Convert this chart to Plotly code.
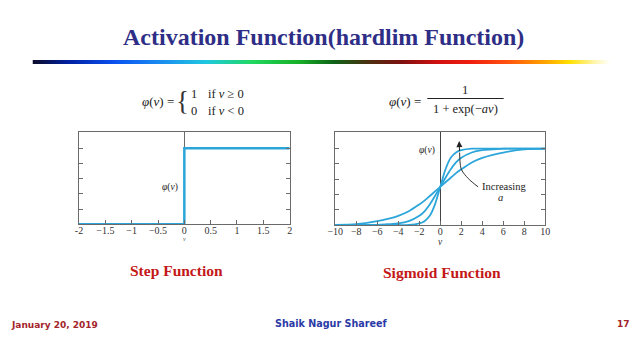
import plotly.graph_objects as go

# ---------------- data ----------------
step_x = [-2, 0, 0, 2]
step_y = [0, 0, 1, 1]
step_ticks = [-2, -1.5, -1, -0.5, 0, 0.5, 1, 1.5, 2]
step_ticktext = ["-2", "−1.5", "−1", "−0.5", "0", "0.5", "1", "1.5", "2"]

sig_v = [-10, -8, -6, -5, -4, -3, -2, -1.5, -1, -0.5, 0, 0.5, 1, 1.5, 2, 3, 4, 5, 6, 8, 10]
sig_shallow = [0.0, 0.01, 0.05, 0.08, 0.12, 0.18, 0.27, 0.32, 0.38, 0.44, 0.5, 0.56, 0.62, 0.68, 0.73, 0.82, 0.88, 0.92, 0.95, 0.99, 1.0]
sig_middle = [0.0, 0.0, 0.0, 0.01, 0.02, 0.05, 0.12, 0.18, 0.27, 0.38, 0.5, 0.62, 0.73, 0.82, 0.88, 0.95, 0.98, 0.99, 1.0, 1.0, 1.0]
sig_steep = [0.0, 0.0, 0.0, 0.0, 0.0, 0.0, 0.02, 0.05, 0.12, 0.27, 0.5, 0.73, 0.88, 0.95, 0.98, 1.0, 1.0, 1.0, 1.0, 1.0, 1.0]
sig_ticks = [-10, -8, -6, -4, -2, 0, 2, 4, 6, 8, 10]
y_ticks = [0.2, 0.4, 0.6, 0.8, 1.0]

arrow_v = [3.6, 2.66, 2.04, 1.9, 1.84]
arrow_y = [0.50, 0.61, 0.72, 0.80, 0.95]

gradient_stops = [
    (0.00, "#0c0c2a"), (0.06, "#0020a0"), (0.14, "#0a50f0"), (0.22, "#1a8cf0"),
    (0.30, "#20c8e0"), (0.38, "#20d860"), (0.46, "#18b028"), (0.52, "#0e6418"),
    (0.58, "#4a3010"), (0.64, "#801010"), (0.70, "#d01010"), (0.76, "#f02010"),
    (0.82, "#ff5010"), (0.88, "#ff9a00"), (0.93, "#ffe000"), (0.97, "#fff4a0"),
    (1.00, "#ffffff"),
]

W, H = 638, 359
LINE = "#2ca6da"
FRAME = "#6a6a6a"
SERIF = "Liberation Serif, Times New Roman, serif"
SANS = "DejaVu Sans, Verdana, sans-serif"

fig = go.Figure()

# step function
fig.add_trace(go.Scatter(x=step_x, y=step_y, mode="lines",
                         line=dict(color=LINE, width=2.5), cliponaxis=False,
                         xaxis="x", yaxis="y", showlegend=False, hoverinfo="skip"))

# sigmoid curves
for ys in (sig_shallow, sig_middle, sig_steep):
    fig.add_trace(go.Scatter(x=sig_v, y=ys, mode="lines",
                             line=dict(color=LINE, width=1.8, shape="spline", smoothing=0.8),
                             cliponaxis=False, xaxis="x2", yaxis="y2",
                             showlegend=False, hoverinfo="skip"))

# arrow curve
fig.add_trace(go.Scatter(x=arrow_v, y=arrow_y, mode="lines",
                         line=dict(color="#333333", width=1, shape="spline"),
                         xaxis="x2", yaxis="y2", showlegend=False, hoverinfo="skip"))

# gradient bar
n = 120
fig.add_trace(go.Heatmap(z=[list(range(n))], x=list(range(n)), y=[0],
                         colorscale=[[p, c] for p, c in gradient_stops],
                         showscale=False, zsmooth="best", hoverinfo="skip",
                         xaxis="x3", yaxis="y3"))

ax_common = dict(showline=True, linecolor=FRAME, linewidth=1, mirror=True,
                 ticks="inside", ticklen=4, tickcolor=FRAME, showgrid=False,
                 ticklabelstandoff=-3,
                 tickfont=dict(family=SERIF, size=10, color="#333333"))


def px(x):
    return x / W


def py(y):
    return 1 - y / H


fig.update_layout(
    width=W, height=H, margin=dict(l=0, r=0, t=0, b=0),
    paper_bgcolor="white", plot_bgcolor="white",
    xaxis=dict(domain=[px(72.5), px(287.5)], range=[-2, 2], tickvals=step_ticks,
               ticktext=step_ticktext,
               zeroline=True, zerolinecolor=FRAME, zerolinewidth=1, anchor="y", **ax_common),
    yaxis=dict(domain=[py(224.3), py(132.3)], range=[0, 1.21], tickvals=y_ticks,
               showticklabels=False, zeroline=False, anchor="x",
               **{**ax_common, "mirror": "ticks"}),
    xaxis2=dict(domain=[px(334), px(548.5)], range=[-10, 10], tickvals=sig_ticks,
                zeroline=True, zerolinecolor="#444444", zerolinewidth=1, anchor="y2", **ax_common),
    yaxis2=dict(domain=[py(225), py(132.3)], range=[0, 1.215], tickvals=y_ticks,
                showticklabels=False, zeroline=False, anchor="x2",
                **{**ax_common, "mirror": "ticks"}),
    xaxis3=dict(domain=[px(25), px(614)], visible=False, range=[0, n - 1]),
    yaxis3=dict(domain=[py(64), py(60)], visible=False, range=[-0.5, 0.5]),
)

ann = []


def t(x, y, text, size, color="#222222", family=SERIF, xref="paper", yref="paper",
      xanchor="center", yanchor="middle"):
    if xref == "paper":
        x = px(x)
    if yref == "paper":
        y = py(y)
    ann.append(dict(x=x, y=y, xref=xref, yref=yref, text=text, showarrow=False,
                    font=dict(family=family, size=size, color=color),
                    xanchor=xanchor, yanchor=yanchor))


# title
t(322, 37, "<b>Activation Function(hardlim Function)</b>", 24, color="#2e2e86")

# step equation
t(171, 102, "<i>φ</i>(<i>v</i>) =", 13, xanchor="right")
t(178, 101, "{", 27, color="#333333")
t(185, 94, "1", 12.5, xanchor="left")
t(185, 110.5, "0", 12.5, xanchor="left")
t(202, 94, "if <i>v</i> ≥ 0", 12.5, xanchor="left")
t(202, 110.5, "if <i>v</i> &lt; 0", 12.5, xanchor="left")

# sigmoid equation
t(424, 102, "<i>φ</i>(<i>v</i>) =", 13, xanchor="right")
t(467, 90, "1", 12.5)
t(467, 109, "1 + exp(−<i>av</i>)", 12.5)

# in-plot labels
t(-0.08, 0.49, "<i>φ</i>(<i>v</i>)", 9.5, xref="x", yref="y", xanchor="right")
t(180, 239, "<i>v</i>", 6, color="#555555")
t(-0.3, 0.98, "<i>φ</i>(<i>v</i>)", 9.5, xref="x2", yref="y2", xanchor="right")
t(441.5, 242, "<i>v</i>", 9.5, color="#333333")
t(3.75, 0.50, "Increasing", 10.5, xref="x2", yref="y2", xanchor="left")
t(5.7, 0.36, "<i>a</i>", 10.5, xref="x2", yref="y2")

# captions
t(172, 270, "<b>Step Function</b>", 15.5, color="#c41818")
t(443, 272, "<b>Sigmoid Function</b>", 15.5, color="#c41818")

# footer
t(1, 325, "<b>January 20, 2019</b>", 9, color="#a3242a", family=SANS, xanchor="left")
t(330, 323, "<b>Shaik Nagur Shareef</b>", 9.6, color="#2b3aa6", family=SANS)
t(637, 324, "<b>17</b>", 9, color="#a3242a", family=SANS, xanchor="right")

# arrow head
ann.append(dict(x=1.8, y=1.10, xref="x2", yref="y2", ax=arrow_v[-1], ay=arrow_y[-1],
                axref="x2", ayref="y2", showarrow=True, arrowhead=2, arrowsize=1.2,
                arrowwidth=1, arrowcolor="#222222", text=""))

fig.update_layout(annotations=ann)

# fraction bar
fig.add_shape(type="line", xref="paper", yref="paper", x0=px(428), x1=px(506),
              y0=py(98.5), y1=py(98.5), line=dict(color="#222222", width=1))

fig.write_html("out.html", config={"displayModeBar": False},
               post_script="document.body.style.margin='0';document.body.style.overflow='hidden';")
